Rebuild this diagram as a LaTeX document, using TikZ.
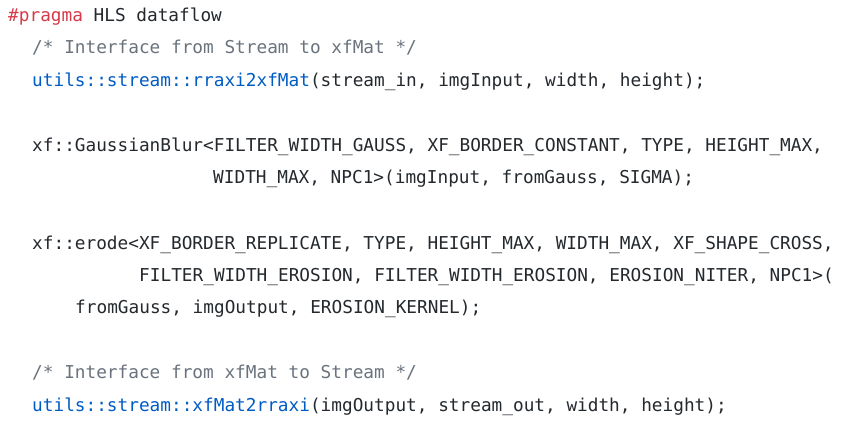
\documentclass[tikz,border=0pt]{standalone}
\usepackage{fontspec}
\setmonofont{DejaVu Sans Mono}
\definecolor{kw}{HTML}{D73A49}
\definecolor{cm}{HTML}{6A737D}
\definecolor{fn}{HTML}{005CC5}
\definecolor{tx}{HTML}{24292E}
\begin{document}
\begin{tikzpicture}[x=1pt,y=1pt,
  code/.style={anchor=base west,inner sep=0pt,text=tx,font=\ttfamily\fontsize{17.75}{20}\selectfont}]
\useasboundingbox[fill=white] (0,0) rectangle (845,-426);
\node[code] (l1) at (8,-21) {\textcolor{kw}{\#pragma} HLS dataflow};
\node[code] (l2) at (32,-53) {\textcolor{cm}{/* Interface from Stream to xfMat */}};
\node[code] (l3) at (32,-86) {\textcolor{fn}{utils::stream::rraxi2xfMat}(stream\_in, imgInput, width, height);};
\node[code] (l5) at (32,-151) {xf::GaussianBlur<FILTER\_WIDTH\_GAUSS, XF\_BORDER\_CONSTANT, TYPE, HEIGHT\_MAX,};
\node[code] (l6) at (213,-183) {WIDTH\_MAX, NPC1>(imgInput, fromGauss, SIGMA);};
\node[code] (l8) at (32,-249) {xf::erode<XF\_BORDER\_REPLICATE, TYPE, HEIGHT\_MAX, WIDTH\_MAX, XF\_SHAPE\_CROSS,};
\node[code] (l9) at (139,-281) {FILTER\_WIDTH\_EROSION, FILTER\_WIDTH\_EROSION, EROSION\_NITER, NPC1>(};
\node[code] (l10) at (75,-313) {fromGauss, imgOutput, EROSION\_KERNEL);};
\node[code] (l12) at (32,-378) {\textcolor{cm}{/* Interface from xfMat to Stream */}};
\node[code] (l13) at (32,-411) {\textcolor{fn}{utils::stream::xfMat2rraxi}(imgOutput, stream\_out, width, height);};
\end{tikzpicture}
\end{document}
